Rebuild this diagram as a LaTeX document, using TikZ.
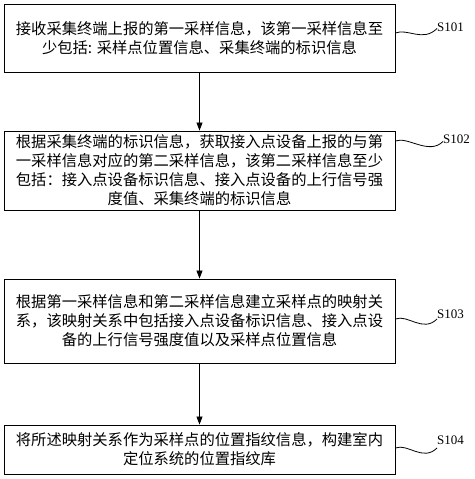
\documentclass[tikz,border=0pt]{standalone}
\usepackage{fontspec}
\newfontfamily\cjk{Noto Sans CJK SC}
\newfontfamily\lbl{Liberation Serif}
\usetikzlibrary{arrows.meta}

\begin{document}
\begin{tikzpicture}[x=1pt, y=1pt, every node/.style={inner sep=0pt}]
	\tikzset{stepbox/.style={draw, line width=.9pt, minimum width=391pt, align=center, font=\cjk\fontsize{15.3}{19}\selectfont},
		steplbl/.style={font=\lbl\fontsize{13}{13}\selectfont, anchor=west},
		flow/.style={-{Triangle[length=8pt,width=6pt]}, line width=.8pt},
		tilde/.style={line width=.8pt}}
	\useasboundingbox (0,0) rectangle (474,-479);
	
	% the four steps
	\node[stepbox, minimum height=68pt] (b1) at (199.5,-38) {接收采集终端上报的第一采样信息，该第一采样信息至\\少包括: 采样点位置信息、采集终端的标识信息};
	\node[stepbox, minimum height=79pt] (b2) at (199.5,-170.5) {根据采集终端的标识信息，获取接入点设备上报的与第\\一采样信息对应的第二采样信息，该第二采样信息至少\\包括：接入点设备标识信息、接入点设备的上行信号强\\度值、采集终端的标识信息};
	\node[stepbox, minimum height=84pt] (b3) at (199.5,-321) {根据第一采样信息和第二采样信息建立采样点的映射关\\系，该映射关系中包括接入点设备标识信息、接入点设\\备的上行信号强度值以及采样点位置信息};
	\node[stepbox, minimum height=49pt] (b4) at (199.5,-449.5) {将所述映射关系作为采样点的位置指纹信息，构建室内\\定位系统的位置指纹库};
	
	% arrows between the steps
	\foreach \a/\b in {b1/b2, b2/b3, b3/b4} {
		\draw[flow] (\a.south) -- (\b.north);
	}
	
	% step numbers with their wavy leaders
	\foreach \step/\stepnode/\ys/\ye/\lx/\ly in {S101/b1/5/-1.5/437/-27, S102/b2/29.5/-2.5/443/-139, S103/b3/2/-5/437/-314, S104/b4/1.5/-8/437/-440} {
		\node[steplbl] (\step) at (\lx,\ly) {\step};
		\coordinate (t\step) at ([yshift=\ys pt]\stepnode.east);
		\draw[tilde] (t\step) .. controls +(12,5) and +(-14,-14) .. ([yshift=\ye pt]\step.west);
	}
\end{tikzpicture}
\end{document}
